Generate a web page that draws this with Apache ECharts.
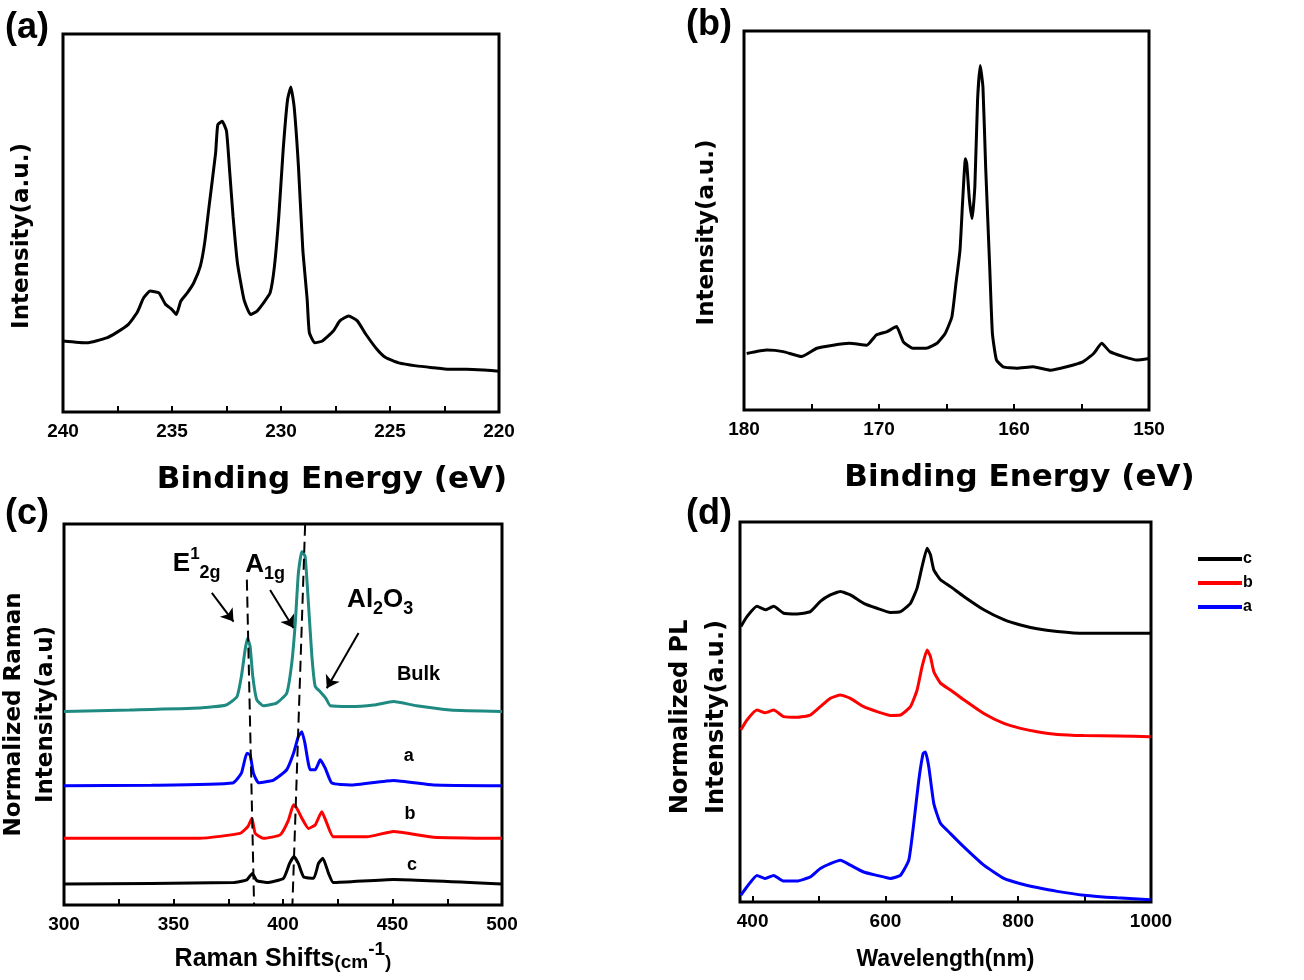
<!DOCTYPE html>
<html lang="en">
<head>
    <meta charset="UTF-8">
    <title>XPS / Raman / PL</title>
    <script src="https://cdn.jsdelivr.net/npm/echarts@6/dist/echarts.min.js"></script>
</head>
<style>
    html, body {
        margin: 0;
        height: 100%;
        background: #fff;
    }
</style>
<body>
<div id="main" style="width: 1304px;height:980px"></div>
<script type="text/javascript">
    // (a) Mo 3d XPS : [binding energy eV, intensity]
    var xpsMo = [
        [240, 18.8], [238.9, 18.3], [238.0, 19.6], [237.55, 21.0], [237.0, 23.2], [236.6, 26.3],
        [236.3, 30.2], [236.0, 32.0], [235.6, 31.5], [235.3, 28.5], [235.0, 27.1], [234.8, 25.8],
        [234.6, 29.3], [234.3, 31.5], [234.0, 34.2], [233.7, 38.6], [233.5, 44.8], [233.3, 54.4],
        [233.0, 68.5], [232.9, 76.0], [232.7, 76.9], [232.5, 74.3], [232.35, 63.3], [232.2, 51.8],
        [232.0, 39.5], [231.7, 29.8], [231.4, 25.8], [231.1, 26.7], [230.8, 28.9], [230.5, 31.5],
        [230.3, 38.6], [230.1, 51.8], [229.9, 69.4], [229.7, 82.6], [229.55, 86.0], [229.4, 80.9],
        [229.2, 65.0], [229.0, 43.0], [228.8, 29.8], [228.7, 21.0], [228.45, 18.3], [228.1, 18.8],
        [227.6, 21.4], [227.3, 24.1], [226.9, 25.4], [226.5, 24.1], [226.1, 20.5], [225.6, 16.6],
        [225.2, 14.4], [224.6, 13.0], [223.8, 12.2], [223.0, 11.7], [222.3, 11.3], [221.5, 11.3],
        [220.7, 11.1], [220.0, 10.8]
    ];

    // (b) S 2p XPS
    var xpsS = [
        [179.8, 14.9], [178.3, 15.8], [177.1, 15.4], [175.75, 14.1], [174.6, 16.3], [173.4, 17.1],
        [172.2, 17.6], [170.9, 17.1], [170.2, 19.8], [169.4, 20.7], [168.7, 22.0], [168.2, 18.0],
        [167.5, 16.3], [166.5, 16.3], [165.7, 17.6], [165.1, 20.2], [164.6, 24.6], [164.3, 33.4],
        [164.0, 42.2], [163.8, 55.4], [163.6, 66.3], [163.5, 65.0], [163.3, 55.4], [163.1, 50.5],
        [162.9, 58.9], [162.7, 81.7], [162.5, 90.9], [162.3, 85.2], [162.1, 64.1], [161.8, 37.8],
        [161.6, 20.2], [161.3, 13.2], [160.8, 11.4], [159.8, 11.0], [158.6, 11.4], [157.3, 10.5],
        [156.1, 11.4], [154.9, 12.7], [154.1, 14.9], [153.5, 17.6], [152.9, 15.4], [151.9, 14.1],
        [150.9, 13.2], [150.0, 13.6]
    ];

    // (c) Raman : [shift cm-1, normalized intensity + offset]
    var ramanBulk = [
        [300, 50.8], [330, 51.2], [362, 51.7], [374, 52.5], [379, 54.7], [381, 60], [382.7, 67],
        [383.8, 70], [385, 67.8], [386.2, 60], [388, 53.9], [391, 52.3], [397, 53], [401.7, 55.6],
        [404, 63.5], [405.6, 74], [407, 87], [408.6, 92.8], [410.1, 91.5], [411.7, 78.4],
        [413.2, 65.2], [414.7, 57.4], [417, 56], [419.5, 54.3], [421.6, 52.3], [430.7, 52.1],
        [441.4, 52.5], [450.5, 53.4], [461, 52.3], [476.4, 51.2], [500, 50.8]
    ];
    var ramanA = [
        [300, 31.3], [340, 31.4], [377, 32], [381, 34.6], [383.5, 39.8], [385, 39.4], [386.5, 34.6],
        [388.8, 32.1], [395.7, 32.8], [401.7, 35.5], [404.8, 39.8], [407, 44.2], [408.6, 45.5],
        [410, 42.5], [412.4, 35.5], [414.7, 35.5], [417, 38.1], [419.3, 35.9], [422.3, 32],
        [430.7, 31.5], [450.5, 32.7], [468.8, 31.5], [500, 31.3]
    ];
    var ramanB = [
        [300, 17.5], [362, 17.5], [380.4, 18.8], [384, 20.6], [385.8, 22.8], [387.3, 18.8],
        [391, 17.5], [398.7, 18.4], [402.5, 22.3], [404.8, 26.3], [406.3, 25.4], [408.6, 22.8],
        [411.6, 20.1], [414.7, 21], [417.7, 24.5], [420, 21.5], [423, 17.9], [438.3, 17.9],
        [450.5, 19.3], [468.8, 17.8], [500, 17.5]
    ];
    var ramanC = [
        [300, 5.5], [377.4, 5.9], [383.5, 6.6], [386, 8.3], [388, 6.4], [392.6, 5.9], [400.2, 7],
        [403, 10.9], [405, 12.7], [407, 10.9], [409.4, 7.4], [414, 7], [416.2, 10.9], [418.2, 12.3],
        [420.8, 8.3], [423, 5.9], [450.5, 6.7], [500, 5.5]
    ];
    // guide lines, arrows and labels of panel (c)
    var ramanGuides = [
        [[383.5, 85.4], [386.8, 0]],
        [[410.1, 99.8], [404.3, 0]]
    ];
    var ramanArrows = [
        [[367.5, 81.9], [377.4, 74.4]],
        [[394.1, 82.7], [404.8, 72.7]],
        [[434.5, 71.4], [420.0, 56.9]]
    ];
    var ramanNotes = [
        [360.6, 89.6, '{b|E}{sup|1}{sub|2g}'],
        [391.8, 89.3, '{b|A}{sub|1g}'],
        [444.4, 80.1, '{b|Al}{sub|2}{b|O}{sub|3}'],
        [461.9, 60.4, '{m|Bulk}'],
        [457.4, 39.0, '{s|a}'],
        [458.0, 24.0, '{s|b}'],
        [458.9, 10.5, '{s|c}']
    ];

    // (d) PL : [wavelength nm, normalized intensity + offset]
    var plC = [
        [382.4, 72.5], [391.5, 75.1], [406.5, 77.8], [419.1, 76.9], [431.7, 77.8], [446.7, 76],
        [466.8, 75.8], [486.9, 76.4], [502, 79.1], [517.1, 80.8], [532.2, 81.7], [547.2, 80.8],
        [567.3, 78.6], [587.4, 77.3], [607.5, 76.2], [622.6, 76.4], [637.7, 78.6], [647.7, 82.6],
        [655.3, 88.3], [662.8, 93.1], [667.8, 91.4], [672.9, 87.4], [682.9, 84.8], [698, 83],
        [718.1, 80.4], [748.2, 76.9], [778.4, 74.3], [803.5, 72.9], [828.6, 71.9], [858.8, 71.2],
        [899, 70.7], [949.2, 70.7], [999.5, 70.7]
    ];
    var plB = [
        [382.4, 45.3], [391.5, 47.9], [406.5, 50.5], [419.1, 49.8], [431.7, 50.5], [446.7, 48.8],
        [466.8, 48.6], [486.9, 49.2], [502, 51.4], [517.1, 53.6], [532.2, 54.5], [547.2, 53.6],
        [567.3, 51.4], [587.4, 50.1], [607.5, 49.1], [622.6, 49.2], [637.7, 51.4], [647.7, 55.8],
        [655.3, 62], [662.8, 66.3], [667.8, 64.6], [672.9, 60.6], [682.9, 57.6], [698, 55.8],
        [718.1, 53.2], [748.2, 49.6], [778.4, 47], [803.5, 45.7], [828.6, 44.8], [858.8, 44.1],
        [899, 43.8], [949.2, 43.7], [999.5, 43.5]
    ];
    var plA = [
        [382.4, 1.8], [391.5, 4], [406.5, 7], [419.1, 6.2], [431.7, 7], [446.7, 5.5], [466.8, 5.5],
        [486.9, 6.6], [502, 8.8], [517.1, 10.1], [532.2, 11], [547.2, 9.7], [567.3, 7.9],
        [587.4, 7], [607.5, 6.2], [622.6, 7], [635.2, 11], [642.7, 20.7], [650.3, 32.1],
        [656.8, 39.1], [660.3, 39.5], [665.3, 35.6], [672.9, 25.9], [682.9, 20.7], [698, 18],
        [718.1, 14.5], [748.2, 9.7], [778.4, 6.2], [803.5, 4.8], [828.6, 3.8], [858.8, 2.8],
        [899, 1.8], [949.2, 1.1], [999.5, 0.6]
    ];
    var plLabelValues = [400, 600, 800, 1000];
    var plTickValues = [400, 500, 600, 700, 800, 900];

    var FONT = 'Liberation Sans, Arial, sans-serif';
    var WIDE = 'DejaVu Sans, Verdana, sans-serif';
    var TEAL = '#1f8a82';

    var grids = [
        {left: 63, top: 34, width: 436, height: 378},
        {left: 744, top: 31, width: 405, height: 379},
        {left: 64, top: 524, width: 438, height: 381},
        {left: 740, top: 522, width: 411, height: 380}
    ];
    grids.forEach(function (g) {
        g.show = true;
        g.borderColor = '#000';
        g.borderWidth = 3;
        g.backgroundColor = 'transparent';
        g.containLabel = false;
        g.outerBoundsMode = 'none';
    });

    function xAxis(idx, min, max, interval, inverse, name, nameGap, fontSize, family) {
        return {
            type: 'value', gridIndex: idx, min: min, max: max, interval: interval, inverse: inverse,
            name: name, nameLocation: 'middle', nameGap: nameGap,
            nameTextStyle: {fontSize: fontSize, fontWeight: 'bold', color: '#000', fontFamily: family},
            axisLine: {show: false},
            axisTick: {show: true, inside: true, length: 6, lineStyle: {color: '#000', width: 2}},
            minorTick: {show: true, splitNumber: 2, length: 6, lineStyle: {color: '#000', width: 2}},
            splitLine: {show: false},
            axisLabel: {
                fontSize: 19, fontWeight: 'bold', color: '#000', fontFamily: FONT, margin: 10,
                formatter: function (v) { return String(v); }
            }
        };
    }

    function yAxis(idx, name, nameGap, lineHeight, shift, fontSize) {
        return {
            type: 'value', gridIndex: idx, min: 0, max: 100,
            name: name, nameLocation: 'middle', nameGap: nameGap, nameRotate: 90,
            nameTextStyle: {
                fontSize: fontSize, fontWeight: 'bold', color: '#000', fontFamily: WIDE,
                lineHeight: lineHeight, padding: [0, shift, 0, 0]
            },
            axisLine: {show: false}, axisTick: {show: false}, axisLabel: {show: false},
            splitLine: {show: false}
        };
    }

    var xa = [
        xAxis(0, 220, 240, 5, true, 'Binding Energy (eV)', 52, 31, WIDE),
        xAxis(1, 150, 180, 10, true, 'Binding Energy (eV)', 52, 31, WIDE),
        xAxis(2, 300, 500, 50, false, '{t|Raman Shifts}{p|(cm}{sup|-1}{p|)}', 35, 24, FONT),
        xAxis(3, 381, 1000, 100, false, 'Wavelength(nm)', 46, 23, FONT)
    ];
    xa[0].nameTextStyle.padding = [0, 0, 0, 102];
    xa[1].nameTextStyle.padding = [0, 0, 0, 146];
    xa[2].nameTextStyle.rich = {
        t: {fontSize: 25, fontWeight: 'bold', fontFamily: FONT, color: '#000', lineHeight: 32, verticalAlign: 'bottom'},
        p: {fontSize: 19, fontWeight: 'bold', fontFamily: FONT, color: '#000', lineHeight: 22, verticalAlign: 'bottom'},
        sup: {fontSize: 19, fontWeight: 'bold', fontFamily: FONT, color: '#000', lineHeight: 19, verticalAlign: 'top'}
    };
    xa[3].axisLabel.customValues = plLabelValues;
    xa[3].axisTick.customValues = plTickValues;
    xa[3].minorTick.show = false;

    var ya = [
        yAxis(0, 'Intensity(a.u.)', 29, 24, 26, 23),
        yAxis(1, 'Intensity(a.u.)', 25, 24, 24, 23),
        yAxis(2, 'Normalized Raman\nIntensity(a.u)', 2, 32, 0, 23),
        yAxis(3, 'Normalized PL\nIntensity(a.u.)', 5, 36, 10, 24)
    ];

    function curve(name, idx, data, color, width) {
        return {
            name: name, type: 'line', xAxisIndex: idx, yAxisIndex: idx, data: data,
            showSymbol: false, smooth: 0.15, lineStyle: {color: color, width: width},
            itemStyle: {color: color}, z: 3, animation: false
        };
    }

    var noteStyle = {
        b: {fontSize: 26, fontWeight: 'bold', fontFamily: FONT, color: '#000', lineHeight: 36, verticalAlign: 'middle'},
        sup: {fontSize: 17, fontWeight: 'bold', fontFamily: FONT, color: '#000', lineHeight: 17, verticalAlign: 'top'},
        sub: {fontSize: 18, fontWeight: 'bold', fontFamily: FONT, color: '#000', lineHeight: 18, verticalAlign: 'bottom'},
        m: {fontSize: 20, fontWeight: 'bold', fontFamily: FONT, color: '#000'},
        s: {fontSize: 18, fontWeight: 'bold', fontFamily: FONT, color: '#000'}
    };

    var myChart = echarts.init(document.getElementById('main'), null, {renderer: 'canvas'});
    var option = {
        animation: false,
        backgroundColor: '#fff',
        title: [
            {text: '(a)', left: 5, top: 10},
            {text: '(b)', left: 686, top: 7},
            {text: '(c)', left: 5, top: 496},
            {text: '(d)', left: 686, top: 496}
        ].map(function (t) {
            t.padding = 0;
            t.textStyle = {fontSize: 36, fontWeight: 'bold', color: '#000', fontFamily: FONT};
            return t;
        }),
        legend: {
            data: ['c', 'b', 'a'], orient: 'vertical', left: 1193, top: 546,
            itemWidth: 44, itemHeight: 4, itemGap: 8, icon: 'rect', selectedMode: false,
            textStyle: {fontSize: 16, fontWeight: 'bold', color: '#000', fontFamily: FONT, padding: [0, 0, 0, -4]}
        },
        grid: grids,
        xAxis: xa,
        yAxis: ya,
        series: [
            curve('Mo 3d', 0, xpsMo, '#000', 3),
            curve('S 2p', 1, xpsS, '#000', 3),
            curve('Bulk', 2, ramanBulk, TEAL, 3),
            curve('Raman a', 2, ramanA, '#0000ff', 3),
            curve('Raman b', 2, ramanB, '#ff0000', 3),
            curve('Raman c', 2, ramanC, '#000', 3),
            {
                type: 'lines', coordinateSystem: 'cartesian2d', xAxisIndex: 2, yAxisIndex: 2, z: 4,
                lineStyle: {color: '#000', width: 2, type: [11, 6], opacity: 1},
                data: ramanGuides.map(function (c) { return {coords: c}; })
            },
            {
                type: 'lines', coordinateSystem: 'cartesian2d', xAxisIndex: 2, yAxisIndex: 2, z: 4,
                symbol: ['none', 'arrow'], symbolSize: 12,
                lineStyle: {color: '#000', width: 2, opacity: 1},
                data: ramanArrows.map(function (c) { return {coords: c}; })
            },
            {
                type: 'scatter', xAxisIndex: 2, yAxisIndex: 2, symbolSize: 0, z: 5,
                itemStyle: {opacity: 1},
                data: ramanNotes.map(function (n) {
                    return {value: [n[0], n[1]], label: {formatter: n[2]}};
                }),
                label: {show: true, position: 'inside', color: '#000', rich: noteStyle}
            },
            curve('c', 3, plC, '#000', 3),
            curve('b', 3, plB, '#ff0000', 3),
            curve('a', 3, plA, '#0000ff', 3)
        ]
    };
    myChart.setOption(option);
</script>
</body>
</html>
